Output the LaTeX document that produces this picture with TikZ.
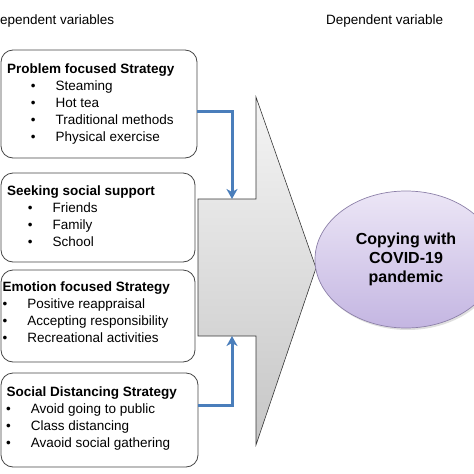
\documentclass[tikz,border=0pt]{standalone}
\usepackage{fontspec}
\setmainfont{Liberation Sans}
\usetikzlibrary{arrows.meta,positioning,shapes.geometric,calc,shadows}
\definecolor{linkblue}{RGB}{74,126,187}
\definecolor{boxgray}{RGB}{70,70,70}
\definecolor{lavtop}{RGB}{236,230,246}
\definecolor{lavbot}{RGB}{196,182,226}
\definecolor{lavedge}{RGB}{140,128,168}
\definecolor{arrowedge}{RGB}{55,55,55}
\newcommand{\bitem}[1]{\hspace*{#1pt}\textbullet\hspace*{20pt}}
\tikzset{stratbox/.style={draw=boxgray, fill=white, rounded corners=12pt,
             line width=0.8pt, inner sep=0pt},
         strattext/.style={anchor=north west, align=left, inner sep=0pt,
             font=\fontsize{13.5}{17}\selectfont},
         linkarrow/.style={draw=linkblue, line width=3pt,
             -{Stealth[length=10pt,width=11pt,inset=3pt]}}}

\begin{document}
\begin{tikzpicture}[x=1pt,y=-1pt]
  \useasboundingbox (0,0) rectangle (474,474);
  % column titles
  \node[anchor=west, inner sep=0pt, font=\fontsize{13.5}{16}\selectfont] (indep) at (0,21) {ependent variables};
  \node[anchor=west, inner sep=0pt, font=\fontsize{13.5}{16}\selectfont] (dep) at (326,21) {Dependent variable};
  % big arrow
  \coordinate (shafttop) at (232,199);
  \coordinate (shaftbot) at (232,336);
  \shade[top color=gray!8, bottom color=gray!45, draw=arrowedge, line width=0.6pt]
    (198,199) -- (256,199) -- (256,97) -- (316,268) -- (256,445) -- (256,336) -- (198,336) -- cycle;
  % strategy boxes
  \node[stratbox, minimum width=196pt, minimum height=108pt] (prob) at (99,104) {};
  \node[stratbox, minimum width=194pt, minimum height=89pt] (seek) at (98,217.5) {};
  \node[stratbox, minimum width=194pt, minimum height=92pt] (emot) at (98,316) {};
  \node[stratbox, minimum width=197pt, minimum height=94pt] (dist) at (99.5,420) {};
  \node[strattext] (probtxt) at (7,63.5) {\textbf{Problem focused Strategy}\\
      \bitem{23.6}Steaming\\ \bitem{23.6}Hot tea\\
      \bitem{23.6}Traditional methods\\ \bitem{23.6}Physical exercise};
  \node[strattext] (seektxt) at (7,186) {\textbf{Seeking social support}\\
      \bitem{20.6}Friends\\ \bitem{20.6}Family\\ \bitem{20.6}School};
  \node[strattext] (emottxt) at (2.5,282) {\textbf{Emotion focused Strategy}\\
      \bitem{0}Positive reappraisal\\ \bitem{0}Accepting responsibility\\
      \bitem{0}Recreational activities};
  \node[strattext] (disttxt) at (6,387) {\hspace*{0.5pt}\textbf{Social Distancing Strategy}\\
      \bitem{0}Avoid going to public\\ \bitem{0}Class distancing\\
      \bitem{0}Avaoid social gathering};
  % outcome
  \node[ellipse, draw=lavedge, line width=0.7pt, top color=lavtop, bottom color=lavbot,
        drop shadow={opacity=0.25, shadow xshift=1.5pt, shadow yshift=-2pt},
        minimum width=182pt, minimum height=137pt, inner sep=0pt, align=center,
        font=\bfseries\fontsize{16}{18.8}\selectfont] (cope) at (406,259.5)
        {Copying with\\COVID-19\\pandemic};
  % links into the arrow
  \coordinate (probout) at (197,111);
  \coordinate (distout) at (198,405);
  \draw[linkarrow] (probout) -| (shafttop);
  \draw[linkarrow] (distout) -| (shaftbot);
\end{tikzpicture}
\end{document}
